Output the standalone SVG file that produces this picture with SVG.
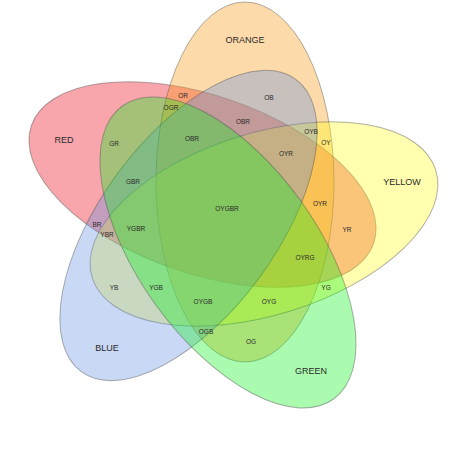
<svg xmlns="http://www.w3.org/2000/svg" width="474" height="463" viewBox="0 0 474 463">
  <style>
    .set { fill-opacity: 0.35; stroke: #505050; stroke-opacity: 0.45; stroke-width: 1; }
    .big { font-family: "Liberation Sans", Arial, sans-serif; font-size: 9px; fill: #2a2a2a; text-anchor: middle; dominant-baseline: central; }
    .small { font-family: "Liberation Sans", Arial, sans-serif; font-size: 6.5px; fill: #2a2a2a; text-anchor: middle; dominant-baseline: central; }
  </style>
  <rect width="474" height="463" fill="#ffffff"/>
  <g id="sets">
    <g id="red"><ellipse class="set" cx="202.5" cy="184.5" rx="181" ry="89" transform="rotate(19 202.5 184.5)" fill="#eb0012"/></g>
    <g id="orange"><ellipse class="set" cx="245" cy="182" rx="89" ry="180" fill="#f9950c"/></g>
    <g id="yellow"><ellipse class="set" cx="264" cy="224" rx="180" ry="91" transform="rotate(-17.4 264 224)" fill="#ffff1a"/></g>
    <g id="blue"><ellipse class="set" cx="188.5" cy="225.5" rx="181.3" ry="88" transform="rotate(-53.7 188.5 225.5)" fill="#628fe2"/></g>
    <g id="green"><ellipse class="set" cx="228" cy="252.5" rx="180.6" ry="89.2" transform="rotate(54.2 228 252.5)" fill="#0cf11a"/></g>
  </g>
  <g id="set-labels">
    <text class="big" x="245" y="40">ORANGE</text>
    <text class="big" x="64" y="140">RED</text>
    <text class="big" x="402" y="182">YELLOW</text>
    <text class="big" x="107" y="348">BLUE</text>
    <text class="big" x="311" y="371">GREEN</text>
  </g>
  <g id="region-labels">
    <text class="small" x="183" y="95">OR</text>
    <text class="small" x="171" y="107">OGR</text>
    <text class="small" x="269" y="97">OB</text>
    <text class="small" x="243" y="121">OBR</text>
    <text class="small" x="192" y="138">OBR</text>
    <text class="small" x="114" y="143">GR</text>
    <text class="small" x="133" y="181">GBR</text>
    <text class="small" x="311" y="131">OYB</text>
    <text class="small" x="326" y="142">OY</text>
    <text class="small" x="286" y="153">OYR</text>
    <text class="small" x="320" y="203">OYR</text>
    <text class="small" x="347" y="229">YR</text>
    <text class="small" x="227" y="208">OYGBR</text>
    <text class="small" x="97" y="224">BR</text>
    <text class="small" x="107" y="234">YBR</text>
    <text class="small" x="136" y="228">YGBR</text>
    <text class="small" x="114" y="287">YB</text>
    <text class="small" x="156" y="287">YGB</text>
    <text class="small" x="203" y="301">OYGB</text>
    <text class="small" x="206" y="331">OGB</text>
    <text class="small" x="305" y="257">OYRG</text>
    <text class="small" x="326" y="287">YG</text>
    <text class="small" x="269" y="301">OYG</text>
    <text class="small" x="251" y="341">OG</text>
  </g>
</svg>
